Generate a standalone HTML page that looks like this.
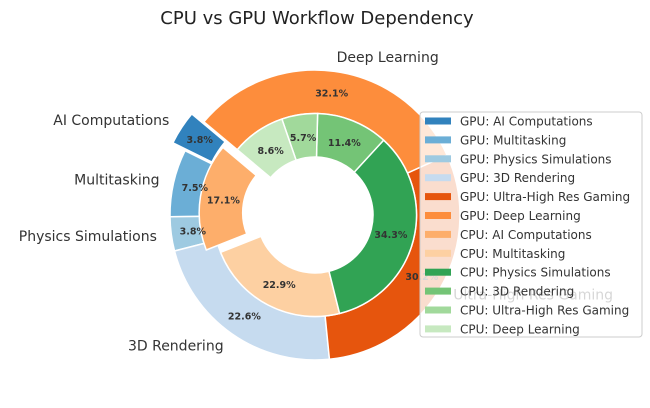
<!DOCTYPE html>
<html><head><meta charset="utf-8"><style>
body{margin:0;background:#fff;}
svg{display:block;font-family:"DejaVu Sans","Liberation Sans",sans-serif;}
</style></head><body>
<svg id="chart" width="650" height="408" viewBox="0 0 650 408">
<text x="317" y="24" text-anchor="middle" font-size="18" fill="#222">CPU vs GPU Workflow Dependency</text>
<g id="pies"></g>
<g id="legend"></g>
</svg>
<script>
const categories = ["AI Computations","Multitasking","Physics Simulations","3D Rendering","Ultra-High Res Gaming","Deep Learning"];
const gpuValues = [3.8,7.5,3.8,22.6,30.2,32.1];
const cpuValues = [17.1,22.9,34.3,11.4,5.7,8.6];
const gpuExplode = [0.1,0,0,0,0,0];
const cpuExplode = [0.1,0,0,0,0,0];
const gpuColors = ["#3182bd","#6baed6","#9ecae1","#c6dbef","#e6550d","#fd8d3c"];
const cpuColors = ["#fdae6b","#fdd0a2","#31a354","#74c476","#a1d99b","#c7e9c0"];

const NS="http://www.w3.org/2000/svg";
const cx=315, cy=215, R=145, startAngle=140;
const pies=document.getElementById('pies');
const labelsG=document.createElementNS(NS,'g');
function pt(r,a){const t=a*Math.PI/180;return [cx+r*Math.cos(t), cy-r*Math.sin(t)];}
function ring(values,colors,explode,rOut,rIn,pctR,prefix,showLabels){
  const total=values.reduce((a,b)=>a+b,0);
  let a0=startAngle;
  values.forEach((v,i)=>{
    const span=v/total*360, a1=a0+span, mid=(a0+a1)/2;
    const ex=explode[i]*R, t=mid*Math.PI/180, dx=ex*Math.cos(t), dy=-ex*Math.sin(t);
    const [x1,y1]=pt(rOut,a0),[x2,y2]=pt(rOut,a1),[x3,y3]=pt(rIn,a1),[x4,y4]=pt(rIn,a0);
    const large=span>180?1:0;
    const p=document.createElementNS(NS,'path');
    p.setAttribute('d',`M${x1},${y1} A${rOut},${rOut} 0 ${large} 0 ${x2},${y2} L${x3},${y3} A${rIn},${rIn} 0 ${large} 1 ${x4},${y4} Z`);
    p.setAttribute('fill',colors[i]);p.setAttribute('stroke','#fff');p.setAttribute('stroke-width','1.5');
    p.setAttribute('transform',`translate(${dx},${dy})`);
    
    
    pies.appendChild(p);
    const [px,py]=pt(pctR,mid);
    const tx=document.createElementNS(NS,'text');
    tx.setAttribute('x',px+dx);tx.setAttribute('y',py+dy+3.5);tx.setAttribute('text-anchor','middle');
    tx.setAttribute('font-size','9.5');tx.setAttribute('font-weight','bold');tx.setAttribute('fill','#333');
    tx.textContent=v.toFixed(1)+'%';
    
    
    labelsG.appendChild(tx);
    if(showLabels){
      const [lx,ly]=pt(R*1.1,mid);
      const l=document.createElementNS(NS,'text');
      l.setAttribute('x',lx+dx);l.setAttribute('y',ly+dy+5);
      l.setAttribute('text-anchor',Math.cos(t)<0?'end':'start');
      l.setAttribute('font-size','14');l.setAttribute('fill','#333');
      l.textContent=categories[i];
      
      
      labelsG.appendChild(l);
    }
    a0=a1;
  });
}
ring(gpuValues,gpuColors,gpuExplode,R,R*0.7,R*0.85,'gpu',true);
ring(cpuValues,cpuColors,cpuExplode,R*0.7,R*0.4,R*0.54,'cpu',false);
pies.appendChild(labelsG);

const lg=document.getElementById('legend');
const box=document.createElementNS(NS,'rect');
box.setAttribute('x',420);box.setAttribute('y',112);box.setAttribute('width',222);box.setAttribute('height',225);
box.setAttribute('rx',3);box.setAttribute('fill','rgba(255,255,255,0.8)');box.setAttribute('stroke','#ccc');


lg.appendChild(box);
const entries=[...categories.map((c,i)=>['GPU: '+c,gpuColors[i]]),...categories.map((c,i)=>['CPU: '+c,cpuColors[i]])];
entries.forEach((e,i)=>{
  const y=121+i*18.9;
  const g=document.createElementNS(NS,'g');
  
  
  const r=document.createElementNS(NS,'rect');
  r.setAttribute('x',425);r.setAttribute('y',y-3.5);r.setAttribute('width',26);r.setAttribute('height',7);r.setAttribute('fill',e[1]);
  const t=document.createElementNS(NS,'text');
  t.setAttribute('x',460);t.setAttribute('y',y+4.5);t.setAttribute('font-size','12');t.setAttribute('fill','#333');
  t.textContent=e[0];
  g.appendChild(r);g.appendChild(t);lg.appendChild(g);
});
</script>
</body></html>
